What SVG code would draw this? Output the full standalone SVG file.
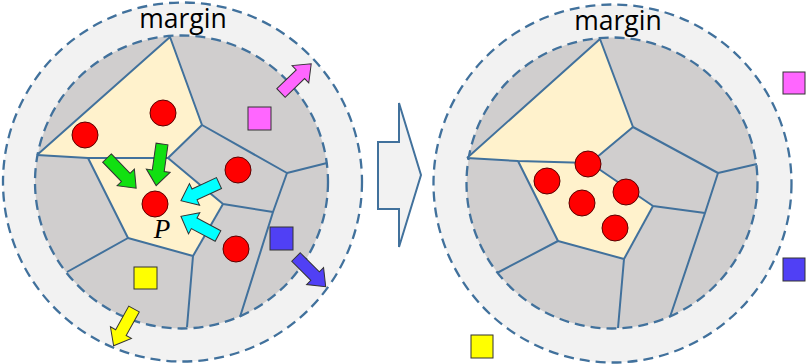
<svg xmlns="http://www.w3.org/2000/svg" xmlns:xlink="http://www.w3.org/1999/xlink" width="811" height="364" viewBox="0 0 811 364">
<style>
.outer{fill:#F2F2F2;stroke:#41719C;stroke-width:2.3;stroke-dasharray:10 6}
.inner{fill:#D0CECE;stroke:#41719C;stroke-width:2.3;stroke-dasharray:10 6}
.cell{fill:#FFF2CC;stroke:none}
.edge{fill:none;stroke:#41719C;stroke-width:2;stroke-linejoin:round}
.pt{fill:#FF0000;stroke:#5a0000;stroke-width:1}
.sq{stroke:#333;stroke-width:1}
.arr{stroke:#333;stroke-width:1}
.lbl{font-family:"Open Sans","Liberation Sans",sans-serif;font-size:26.5px;fill:#000;text-anchor:middle}
.p{font-family:"Liberation Serif",serif;font-style:italic;font-size:27px;fill:#000;text-anchor:middle}
</style>
<defs>
<path id="arr" d="M0,-6 H27 V-12 L42,0 L27,12 V6 H0 Z"/>
</defs>
<rect width="811" height="364" fill="#FFFFFF"/>

<g id="left">
<circle class="outer" cx="182.5" cy="182" r="179.5"/>
<circle class="inner" cx="181.5" cy="182" r="146.5"/>
<polygon class="cell" points="170,37 202,125 168,158 88,158 37,155"/>
<polygon class="cell" points="88,158 168,158 223,204 193,256 128,238"/>
<g class="edge">
<polyline points="37,155 170,37 202,125 287,173 327,163"/>
<polyline points="287,173 273,212 240,317"/>
<polyline points="273,212 223,204 168,158 202,125"/>
<polyline points="37,155 88,158 168,158"/>
<polyline points="88,158 128,238 67,272"/>
<polyline points="128,238 193,256 187,327"/>
<polyline points="193,256 223,204"/>
</g>
<text class="lbl" x="183" y="28">margin</text>
<rect class="sq" x="248" y="107" width="23" height="23" fill="#FF66FF"/>
<rect class="sq" x="270" y="227" width="23" height="23" fill="#5040F5"/>
<rect class="sq" x="134" y="267" width="23" height="22" fill="#FFFF00"/>
<circle class="pt" cx="85" cy="135" r="13"/>
<circle class="pt" cx="163" cy="113" r="13"/>
<circle class="pt" cx="238" cy="170" r="13"/>
<circle class="pt" cx="155" cy="204" r="13"/>
<circle class="pt" cx="236" cy="249" r="13"/>
<text class="p" x="162" y="238">P</text>
<g id="arrows">
<use xlink:href="#arr" class="arr" fill="#FF66FF" transform="translate(281,93) rotate(-44)"/>
<use xlink:href="#arr" class="arr" fill="#5040F5" transform="translate(296,257) rotate(45)"/>
<use xlink:href="#arr" class="arr" fill="#FFFF00" transform="translate(134,309) rotate(119)"/>
<use xlink:href="#arr" class="arr" fill="#11E011" transform="translate(107,158) rotate(46)"/>
<use xlink:href="#arr" class="arr" fill="#11E011" transform="translate(162,144) rotate(98)"/>
<use xlink:href="#arr" class="arr" fill="#00FFFF" transform="translate(219,183) rotate(155)"/>
<use xlink:href="#arr" class="arr" fill="#00FFFF" transform="translate(218,236) rotate(208)"/>
</g>
</g>

<g id="bigarrow">
<polygon points="378,142 399,142 399,103 421,175 399,247 399,209 378,209" fill="#F2F2F2" stroke="#41719C" stroke-width="2" stroke-linejoin="miter"/>
</g>

<g id="right">
<circle class="outer" cx="612.5" cy="183.5" r="179"/>
<circle class="inner" cx="612" cy="183" r="145.5"/>
<polygon class="cell" points="600,39 633,127 590,163 518,161 467,158"/>
<polygon class="cell" points="518,161 590,163 653,206 624,259 558,241"/>
<g class="edge">
<polyline points="467,158 600,39 633,127 718,173 757,164"/>
<polyline points="718,173 705,213 670,317"/>
<polyline points="705,213 653,206 590,163 633,127"/>
<polyline points="467,158 518,161 590,163"/>
<polyline points="518,161 558,241 497,273"/>
<polyline points="558,241 624,259 618,328"/>
<polyline points="624,259 653,206"/>
</g>
<text class="lbl" x="618" y="30">margin</text>
<circle class="pt" cx="588" cy="164" r="13"/>
<circle class="pt" cx="547" cy="181" r="13"/>
<circle class="pt" cx="582" cy="203" r="13"/>
<circle class="pt" cx="626" cy="192" r="13"/>
<circle class="pt" cx="615" cy="228" r="13"/>
<rect class="sq" x="783" y="72" width="22" height="22" fill="#FF66FF"/>
<rect class="sq" x="783" y="258" width="22" height="23" fill="#5040F5"/>
<rect class="sq" x="471" y="335" width="22" height="23" fill="#FFFF00"/>
</g>
</svg>
